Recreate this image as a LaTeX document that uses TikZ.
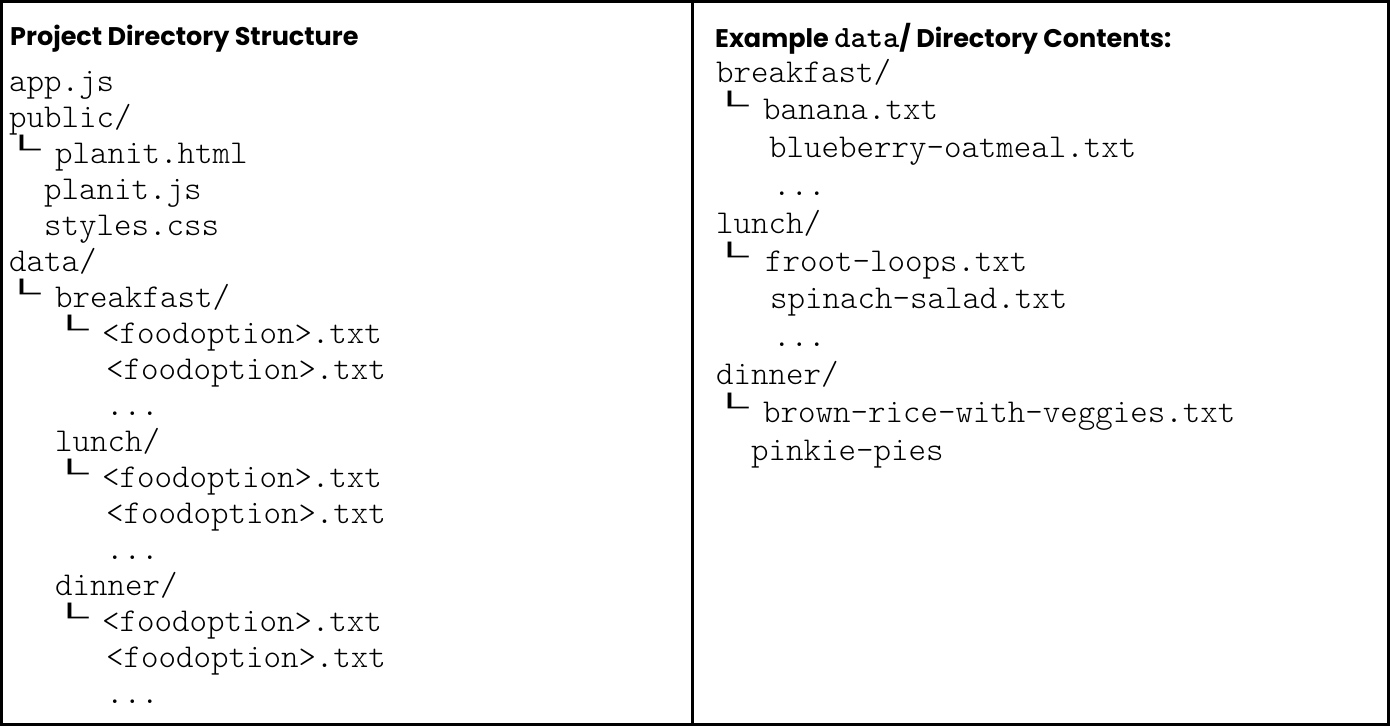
\documentclass[tikz,border=0pt]{standalone}
\usepackage{fontspec}
\newfontfamily\monof{Latin Modern Mono Light}
\newfontfamily\headf{Poppins}
\newfontfamily\boxl{Liberation Sans}
\newcommand{\treeglyph}{\raisebox{6.5pt}{\scalebox{1.85}[0.85]{\boxl └}}}
\begin{document}
\begin{tikzpicture}[x=1pt,y=-1pt,
  mono/.style={font=\monof\fontsize{33.3}{33.3}\selectfont, anchor=base west, inner sep=0pt, text=black},
  head/.style={font=\headf\bfseries\fontsize{25.5}{25.5}\selectfont, anchor=base west, inner sep=0pt, text=black},
  tree/.style={font=\fontsize{29}{29}\selectfont, anchor=base west, inner sep=0pt, text=black},
  frame/.style={line width=3pt, draw=black}]
\useasboundingbox (0,0) rectangle (1390,728);
\fill[white] (0,0) rectangle (1390,728);
\draw[frame] (1.5,1.5) rectangle (1388.5,724.5);
\draw[frame] (692,1.5) -- (692,724.5);
% left column
\node[head] (h1) at (10,45) {Project Directory Structure};
\node[mono] (l1) at (9,91.7) {app.js};
\node[mono] (l2) at (9,127.7) {public/};
\node[tree] (t3) at (2.5,163.7) {\treeglyph};
\node[mono] (l3) at (55,163.7) {planit.html};
\node[mono] (l4) at (44,199.7) {planit.js};
\node[mono] (l5) at (44,235.7) {styles.css};
\node[mono] (l6) at (9,271.7) {data/};
\node[tree] (t7) at (2.5,307.7) {\treeglyph};
\node[mono] (l7) at (55,307.7) {breakfast/};
\node[tree] (t8) at (50.5,343.7) {\treeglyph};
\node[mono] (l8) at (102,343.7) {<foodoption>.txt};
\node[mono] (l9) at (106,379.7) {<foodoption>.txt};
\node[mono] (l10) at (106,415.7) {...};
\node[mono] (l11) at (55,451.7) {lunch/};
\node[tree] (t12) at (50.5,487.7) {\treeglyph};
\node[mono] (l12) at (102,487.7) {<foodoption>.txt};
\node[mono] (l13) at (106,523.7) {<foodoption>.txt};
\node[mono] (l14) at (106,559.7) {...};
\node[mono] (l15) at (55,595.7) {dinner/};
\node[tree] (t16) at (50.5,631.7) {\treeglyph};
\node[mono] (l16) at (102,631.7) {<foodoption>.txt};
\node[mono] (l17) at (106,667.7) {<foodoption>.txt};
\node[mono] (l18) at (106,703.7) {...};
% right column
\node[head] (h2) at (715,47) {Example {\monof\bfseries\fontsize{31}{31}\selectfont data}/ Directory Contents:};
\node[mono] (r1) at (716,82) {breakfast/};
\node[tree] (u2) at (710.5,119.8) {\treeglyph};
\node[mono] (r2) at (763,119.8) {banana.txt};
\node[mono] (r3) at (769,157.6) {blueberry-oatmeal.txt};
\node[mono] (r4) at (773,195.4) {...};
\node[mono] (r5) at (716,233.2) {lunch/};
\node[tree] (u6) at (710.5,271) {\treeglyph};
\node[mono] (r6) at (765,271) {froot-loops.txt};
\node[mono] (r7) at (770,308.8) {spinach-salad.txt};
\node[mono] (r8) at (773,346.6) {...};
\node[mono] (r9) at (716,384.4) {dinner/};
\node[tree] (u10) at (710.5,422.2) {\treeglyph};
\node[mono] (r10) at (763,422.2) {brown-rice-with-veggies.txt};
\node[mono] (r11) at (751,460) {pinkie-pies};
\end{tikzpicture}
\end{document}
